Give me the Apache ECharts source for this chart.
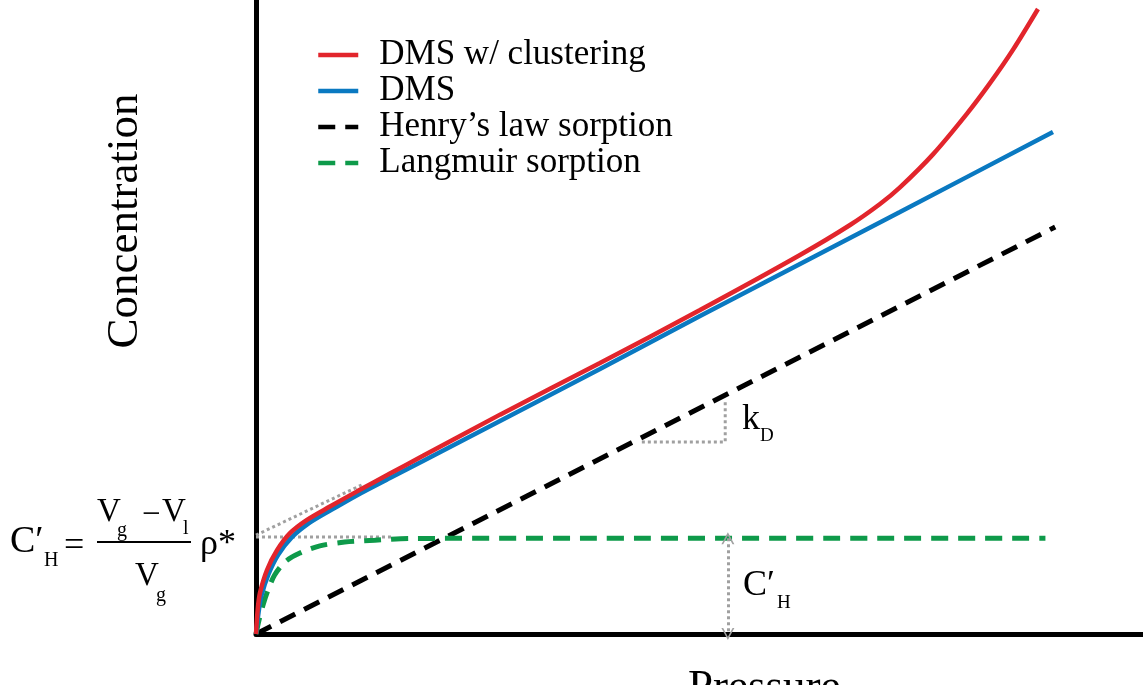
<!DOCTYPE html>
<html>
<head>
<meta charset="utf-8">
<script src="https://cdn.jsdelivr.net/npm/echarts@6/dist/echarts.min.js"></script>
<style>html,body{margin:0;padding:0;background:#fff;}#c{width:1143px;height:685px;}</style>
</head>
<body>
<div id="c"></div>
<script>
// Series names (legend order)
const seriesNames = ['DMS w/ clustering', 'DMS', 'Henry\u2019s law sorption', 'Langmuir sorption'];

// [pressure, concentration] points (arbitrary units 0..100)
const dmsClustering = [[0,0],[0.2,4],[0.45,6.5],[1.24,10.1],[2.37,13.2],[3.83,15.9],[5.75,18.0],[8.34,20.1],[11.4,22.5],[15.1,25.3],[18.83,28.1],[27.51,34.6],[38.78,42.74],[50.06,51.1],[61.33,59.78],[66.97,64.51],[70.35,67.82],[72.6,70.44],[76.32,75.65],[80.16,82.08],[82.75,86.88],[85.34,92.15],[88.16,98.58]];
const dms = [[0,0],[0.3,3.5],[0.6,6],[1.4,9.4],[2.5,12.5],[4.0,15.2],[5.9,17.4],[8.4,19.5],[11.4,21.9],[15.1,24.6],[18.83,27.3],[27.51,33.6],[38.78,41.8],[50.06,50.16],[61.33,58.36],[72.6,66.56],[89.85,79.18]];
const henry = [[0,0],[90.1,64.2]];
const langmuir = [[0,0],[0.34,2.2],[0.8,4.6],[1.35,6.9],[2.1,9.3],[3.3,11.4],[5.0,12.8],[7.2,13.9],[10.0,14.5],[13.4,14.8],[17.4,15.06],[30,15.1],[89,15.1]];

// annotation guide lines
const guideHorizontal = [[0,15.3],[15.4,15.3]];
const guideTangent = [[0,15.6],[11.9,23.5]];
const kdTriangle = [[43.5,30.3],[52.9,30.3],[52.9,37.0]];
const chArrow = [[53.2,15.1],[53.2,0]];

const colors = {red:'#e2252c', blue:'#0a79c1', black:'#000000', green:'#0e9a4a', gray:'#a0a0a0'};
const serif = 'Liberation Serif';

const chart = echarts.init(document.getElementById('c'));

const dotted = {color: colors.gray, width: 3, type: [3,3]};
const vArrow = 'path://M0,10 L5,0 L10,10 L8.6,10 L5,2.8 L1.4,10 Z';

chart.setOption({
  animation: false,
  grid: {left: 256, right: 0, top: 0, bottom: 51},
  xAxis: {type:'value', min:0, max:100, axisLine:{show:true, lineStyle:{color:'#000', width:5}}, axisTick:{show:false}, axisLabel:{show:false}, splitLine:{show:false}},
  yAxis: {type:'value', min:0, max:100, axisLine:{show:true, lineStyle:{color:'#000', width:5}}, axisTick:{show:false}, axisLabel:{show:false}, splitLine:{show:false}},
  legend: {
    data: seriesNames, orient:'vertical', left: 311, top: 32,
    itemWidth: 40, itemHeight: 14, itemGap: 0,
    itemStyle: {opacity: 0},
    lineStyle: {width: 4.5},
    textStyle: {fontFamily: serif, fontSize: 35, color:'#000', lineHeight: 36, padding:[0,0,0,16]}
  },
  series: [
    {type:'line', data: guideHorizontal, symbol:'none', silent:true, lineStyle: dotted},
    {type:'line', data: guideTangent, symbol:'none', silent:true, lineStyle: dotted},
    {type:'line', data: kdTriangle, symbol:'none', silent:true, lineStyle: dotted},
    {type:'line', data: [], symbol:'none', silent:true,
      markLine: {silent:true, symbol:[vArrow, vArrow], symbolSize:[13,12], label:{show:false}, lineStyle: dotted,
        data: [[{coord: chArrow[0]}, {coord: chArrow[1]}]]}},
    {name: seriesNames[2], type:'line', data: henry, symbol:'none', lineStyle:{color:colors.black, width:5, type:[17,10], cap:'butt'}, itemStyle:{color:colors.black}},
    {name: seriesNames[3], type:'line', data: langmuir, symbol:'none', smooth:0.3, lineStyle:{color:colors.green, width:5, type:[17,10], cap:'butt'}, itemStyle:{color:colors.green}},
    {name: seriesNames[1], type:'line', data: dms, symbol:'none', smooth:0.3, lineStyle:{color:colors.blue, width:4.5}, itemStyle:{color:colors.blue}},
    {name: seriesNames[0], type:'line', data: dmsClustering, symbol:'none', smooth:0.3, lineStyle:{color:colors.red, width:4.5}, itemStyle:{color:colors.red}}
  ],
  graphic: [
    {type:'text', x:125, y:221, rotation: Math.PI/2, style:{text:'Concentration', font:'45px "Liberation Serif"', fill:'#000', align:'center', verticalAlign:'middle'}},
    {type:'text', x:688, y:688, style:{text:'Pressure', font:'45px "Liberation Serif"', fill:'#000', align:'left', verticalAlign:'middle'}},
    // formula
    {type:'text', x:10, y:542, style:{text:'C\u2032', font:'38px "Liberation Serif"', fill:'#000', verticalAlign:'middle'}},
    {type:'text', x:44, y:561, style:{text:'H', font:'20px "Liberation Serif"', fill:'#000', verticalAlign:'middle'}},
    {type:'text', x:64, y:547, style:{text:'=', font:'36px "Liberation Serif"', fill:'#000', verticalAlign:'middle'}},
    {type:'text', x:97, y:512, style:{text:'V', font:'33px "Liberation Serif"', fill:'#000', verticalAlign:'middle'}},
    {type:'text', x:117, y:531, style:{text:'g', font:'20px "Liberation Serif"', fill:'#000', verticalAlign:'middle'}},
    {type:'text', x:142, y:515, style:{text:'\u2212', font:'33px "Liberation Serif"', fill:'#000', verticalAlign:'middle'}},
    {type:'text', x:162, y:512, style:{text:'V', font:'33px "Liberation Serif"', fill:'#000', verticalAlign:'middle'}},
    {type:'text', x:183, y:529, style:{text:'l', font:'20px "Liberation Serif"', fill:'#000', verticalAlign:'middle'}},
    {type:'line', shape:{x1:97, y1:542, x2:191, y2:542}, style:{stroke:'#000', lineWidth:2}},
    {type:'text', x:135, y:576, style:{text:'V', font:'33px "Liberation Serif"', fill:'#000', verticalAlign:'middle'}},
    {type:'text', x:156, y:596, style:{text:'g', font:'20px "Liberation Serif"', fill:'#000', verticalAlign:'middle'}},
    {type:'text', x:200, y:545, style:{text:'\u03c1*', font:'36px "Liberation Serif"', fill:'#000', verticalAlign:'middle'}},
    // k_D label
    {type:'text', x:742, y:420, style:{text:'k', font:'36px "Liberation Serif"', fill:'#000', verticalAlign:'middle'}},
    {type:'text', x:760, y:436, style:{text:'D', font:'19px "Liberation Serif"', fill:'#000', verticalAlign:'middle'}},
    // C'_H label
    {type:'text', x:743, y:586, style:{text:'C\u2032', font:'36px "Liberation Serif"', fill:'#000', verticalAlign:'middle'}},
    {type:'text', x:777, y:603, style:{text:'H', font:'19px "Liberation Serif"', fill:'#000', verticalAlign:'middle'}}
  ]
});
</script>
</body>
</html>
